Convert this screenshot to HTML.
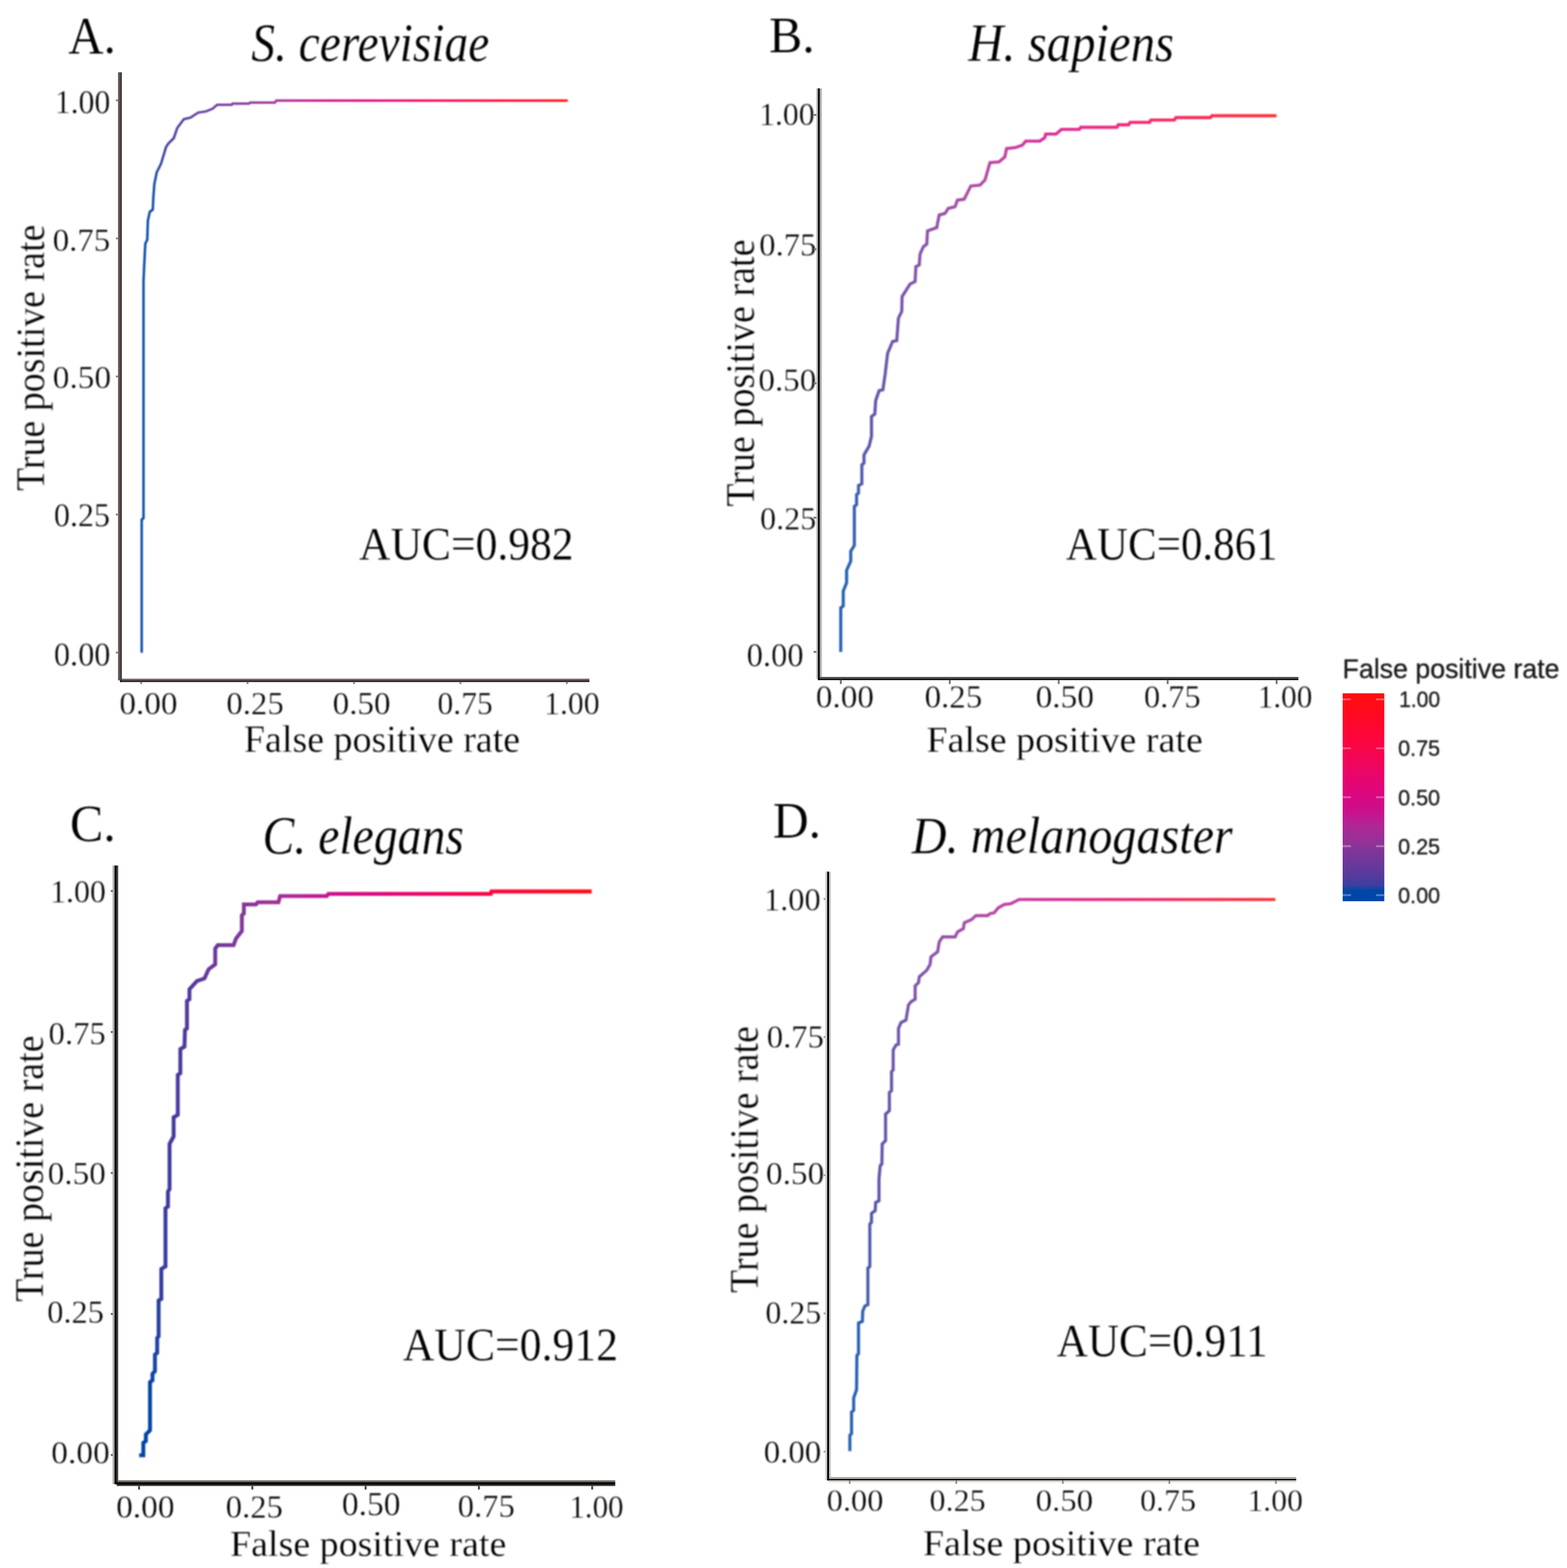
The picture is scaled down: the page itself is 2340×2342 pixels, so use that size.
<!DOCTYPE html>
<html><head><meta charset="utf-8"><title>ROC curves</title>
<style>html,body{margin:0;padding:0;background:#fff}svg{display:block}text{white-space:pre}</style></head>
<body><svg width="2340" height="2342" viewBox="0 0 2340 2342">
<rect width="2340" height="2342" fill="#fff"/>
<defs><linearGradient id="gA" gradientUnits="userSpaceOnUse" x1="210.8" y1="0" x2="846.4" y2="0"><stop offset="0" stop-color="#0046a8"/><stop offset="0.024" stop-color="#0046a6"/><stop offset="0.048" stop-color="#333c9f"/><stop offset="0.077" stop-color="#43399d"/><stop offset="0.105" stop-color="#52389c"/><stop offset="0.16" stop-color="#68379b"/><stop offset="0.218" stop-color="#7d3699"/><stop offset="0.248" stop-color="#8b3498"/><stop offset="0.297" stop-color="#9c2f97"/><stop offset="0.339" stop-color="#aa2a95"/><stop offset="0.396" stop-color="#c01a90"/><stop offset="0.453" stop-color="#d00b8a"/><stop offset="0.497" stop-color="#d80883"/><stop offset="0.538" stop-color="#df0679"/><stop offset="0.623" stop-color="#ea0568"/><stop offset="0.687" stop-color="#f20558"/><stop offset="0.75" stop-color="#f80548"/><stop offset="0.829" stop-color="#fd0636"/><stop offset="0.914" stop-color="#ff0822"/><stop offset="1" stop-color="#ff0d12"/></linearGradient><filter id="fcA" filterUnits="userSpaceOnUse" x="192" y="130" width="676" height="865" color-interpolation-filters="sRGB"><feGaussianBlur stdDeviation="0.8"/></filter><filter id="ftA" filterUnits="userSpaceOnUse" x="0" y="0" width="960" height="1150" color-interpolation-filters="sRGB"><feGaussianBlur stdDeviation="0.8"/></filter><linearGradient id="gB" gradientUnits="userSpaceOnUse" x1="1255.6" y1="0" x2="1906.4" y2="0"><stop offset="0" stop-color="#0046a8"/><stop offset="0.024" stop-color="#0046a6"/><stop offset="0.048" stop-color="#333c9f"/><stop offset="0.077" stop-color="#43399d"/><stop offset="0.105" stop-color="#52389c"/><stop offset="0.16" stop-color="#68379b"/><stop offset="0.218" stop-color="#7d3699"/><stop offset="0.248" stop-color="#8b3498"/><stop offset="0.297" stop-color="#9c2f97"/><stop offset="0.339" stop-color="#aa2a95"/><stop offset="0.396" stop-color="#c01a90"/><stop offset="0.453" stop-color="#d00b8a"/><stop offset="0.497" stop-color="#d80883"/><stop offset="0.538" stop-color="#df0679"/><stop offset="0.623" stop-color="#ea0568"/><stop offset="0.687" stop-color="#f20558"/><stop offset="0.75" stop-color="#f80548"/><stop offset="0.829" stop-color="#fd0636"/><stop offset="0.914" stop-color="#ff0822"/><stop offset="1" stop-color="#ff0d12"/></linearGradient><filter id="fcB" filterUnits="userSpaceOnUse" x="1236" y="153" width="691" height="841" color-interpolation-filters="sRGB"><feGaussianBlur stdDeviation="0.8"/></filter><filter id="ftB" filterUnits="userSpaceOnUse" x="1060" y="0" width="940" height="1150" color-interpolation-filters="sRGB"><feGaussianBlur stdDeviation="0.8"/></filter><linearGradient id="gC" gradientUnits="userSpaceOnUse" x1="207.7" y1="0" x2="884.3" y2="0"><stop offset="0" stop-color="#0046a8"/><stop offset="0.024" stop-color="#0046a6"/><stop offset="0.048" stop-color="#333c9f"/><stop offset="0.077" stop-color="#43399d"/><stop offset="0.105" stop-color="#52389c"/><stop offset="0.16" stop-color="#68379b"/><stop offset="0.218" stop-color="#7d3699"/><stop offset="0.248" stop-color="#8b3498"/><stop offset="0.297" stop-color="#9c2f97"/><stop offset="0.339" stop-color="#aa2a95"/><stop offset="0.396" stop-color="#c01a90"/><stop offset="0.453" stop-color="#d00b8a"/><stop offset="0.497" stop-color="#d80883"/><stop offset="0.538" stop-color="#df0679"/><stop offset="0.623" stop-color="#ea0568"/><stop offset="0.687" stop-color="#f20558"/><stop offset="0.75" stop-color="#f80548"/><stop offset="0.829" stop-color="#fd0636"/><stop offset="0.914" stop-color="#ff0822"/><stop offset="1" stop-color="#ff0d12"/></linearGradient><filter id="fcC" filterUnits="userSpaceOnUse" x="188" y="1312" width="716" height="882" color-interpolation-filters="sRGB"><feGaussianBlur stdDeviation="0.8"/></filter><filter id="ftC" filterUnits="userSpaceOnUse" x="0" y="1180" width="960" height="1162" color-interpolation-filters="sRGB"><feGaussianBlur stdDeviation="0.8"/></filter><linearGradient id="gD" gradientUnits="userSpaceOnUse" x1="1268.9" y1="0" x2="1905.3" y2="0"><stop offset="0" stop-color="#0046a8"/><stop offset="0.024" stop-color="#0046a6"/><stop offset="0.048" stop-color="#333c9f"/><stop offset="0.077" stop-color="#43399d"/><stop offset="0.105" stop-color="#52389c"/><stop offset="0.16" stop-color="#68379b"/><stop offset="0.218" stop-color="#7d3699"/><stop offset="0.248" stop-color="#8b3498"/><stop offset="0.297" stop-color="#9c2f97"/><stop offset="0.339" stop-color="#aa2a95"/><stop offset="0.396" stop-color="#c01a90"/><stop offset="0.453" stop-color="#d00b8a"/><stop offset="0.497" stop-color="#d80883"/><stop offset="0.538" stop-color="#df0679"/><stop offset="0.623" stop-color="#ea0568"/><stop offset="0.687" stop-color="#f20558"/><stop offset="0.75" stop-color="#f80548"/><stop offset="0.829" stop-color="#fd0636"/><stop offset="0.914" stop-color="#ff0822"/><stop offset="1" stop-color="#ff0d12"/></linearGradient><filter id="fcD" filterUnits="userSpaceOnUse" x="1249" y="1324" width="675" height="864" color-interpolation-filters="sRGB"><feGaussianBlur stdDeviation="0.8"/></filter><filter id="ftD" filterUnits="userSpaceOnUse" x="1060" y="1180" width="940" height="1162" color-interpolation-filters="sRGB"><feGaussianBlur stdDeviation="0.8"/></filter><filter id="ftL" filterUnits="userSpaceOnUse" x="1990" y="960" width="350" height="400" color-interpolation-filters="sRGB"><feGaussianBlur stdDeviation="0.8"/></filter><linearGradient id="gL" gradientUnits="userSpaceOnUse" x1="0" y1="1337.0" x2="0" y2="1044.6"><stop offset="0" stop-color="#0046a8"/><stop offset="0.024" stop-color="#0046a6"/><stop offset="0.048" stop-color="#3a40a0"/><stop offset="0.077" stop-color="#4a3c9e"/><stop offset="0.105" stop-color="#583a9d"/><stop offset="0.16" stop-color="#6c389b"/><stop offset="0.218" stop-color="#7d3699"/><stop offset="0.248" stop-color="#8b3498"/><stop offset="0.297" stop-color="#9c2f97"/><stop offset="0.339" stop-color="#aa2a95"/><stop offset="0.396" stop-color="#c01a90"/><stop offset="0.453" stop-color="#d00b8a"/><stop offset="0.497" stop-color="#d80883"/><stop offset="0.538" stop-color="#df0679"/><stop offset="0.623" stop-color="#ea0568"/><stop offset="0.687" stop-color="#f20558"/><stop offset="0.75" stop-color="#f80548"/><stop offset="0.829" stop-color="#fd0636"/><stop offset="0.914" stop-color="#ff0822"/><stop offset="1" stop-color="#ff0d12"/></linearGradient></defs>
<g filter="url(#fcA)">
<polyline points="211.6,975.0 211.6,776.0 214.3,774.0 214.3,420.0 215.2,399.0 217.0,364.0 219.9,358.0 220.8,330.0 223.6,316.5 228.2,313.0 229.0,295.0 230.5,275.0 234.0,257.6 240.5,244.4 248.0,219.5 251.3,214.5 259.6,206.2 264.6,191.3 274.5,178.0 284.5,175.6 296.0,168.1 307.7,166.4 317.6,162.3 324.3,156.5 346.0,156.5 347.4,154.8 372.0,154.8 373.4,153.2 410.5,153.2 412.5,150.2 847.8,150.2" fill="none" stroke="url(#gA)" stroke-width="3.5" stroke-opacity="1" stroke-linejoin="miter"/>
</g>
<g filter="url(#ftA)">
<text transform="matrix(0.9393 0 0 1 102.07 78.80)" font-family="'Liberation Serif', serif" font-size="77.56" fill="#000" stroke="#fff" stroke-width="0.2" stroke-linejoin="round">A.</text>
<text transform="matrix(0.8708 0 0 1 375.29 90.70)" font-family="'Liberation Serif', serif" font-size="81.36" font-style="italic" fill="#000" stroke="#fff" stroke-width="0.3" stroke-linejoin="round">S. cerevisiae</text>
<text transform="matrix(0.9520 0 0 1 81.72 169.00)" font-family="'Liberation Serif', serif" font-size="49.92" fill="#000" stroke="#fff" stroke-width="0.5" stroke-linejoin="round">1.00</text>
<text transform="matrix(1.0109 0 0 1 78.74 374.50)" font-family="'Liberation Serif', serif" font-size="48.57" fill="#000" stroke="#fff" stroke-width="0.5" stroke-linejoin="round">0.75</text>
<text transform="matrix(1.0269 0 0 1 78.70 579.50)" font-family="'Liberation Serif', serif" font-size="48.57" fill="#000" stroke="#fff" stroke-width="0.5" stroke-linejoin="round">0.50</text>
<text transform="matrix(0.9509 0 0 1 80.48 785.70)" font-family="'Liberation Serif', serif" font-size="50.38" fill="#000" stroke="#fff" stroke-width="0.5" stroke-linejoin="round">0.25</text>
<text transform="matrix(0.9726 0 0 1 80.47 994.40)" font-family="'Liberation Serif', serif" font-size="49.62" fill="#000" stroke="#fff" stroke-width="0.5" stroke-linejoin="round">0.00</text>
<text transform="matrix(1.0095 0 0 1 178.21 1067.00)" font-family="'Liberation Serif', serif" font-size="49.17" fill="#000" stroke="#fff" stroke-width="0.5" stroke-linejoin="round">0.00</text>
<text transform="matrix(0.9986 0 0 1 337.94 1067.00)" font-family="'Liberation Serif', serif" font-size="49.17" fill="#000" stroke="#fff" stroke-width="0.5" stroke-linejoin="round">0.25</text>
<text transform="matrix(1.0046 0 0 1 496.72 1067.00)" font-family="'Liberation Serif', serif" font-size="49.17" fill="#000" stroke="#fff" stroke-width="0.5" stroke-linejoin="round">0.50</text>
<text transform="matrix(0.9608 0 0 1 653.21 1067.00)" font-family="'Liberation Serif', serif" font-size="49.17" fill="#000" stroke="#fff" stroke-width="0.5" stroke-linejoin="round">0.75</text>
<text transform="matrix(0.9641 0 0 1 812.53 1067.00)" font-family="'Liberation Serif', serif" font-size="49.17" fill="#000" stroke="#fff" stroke-width="0.5" stroke-linejoin="round">1.00</text>
<text transform="matrix(1.0035 0 0 1 364.30 1122.50)" font-family="'Liberation Serif', serif" font-size="56.49" fill="#000" stroke="#fff" stroke-width="0.4" stroke-linejoin="round">False positive rate</text>
<text transform="matrix(0 -0.9285 1 0 65.80 733.43)" font-family="'Liberation Serif', serif" font-size="61.08" fill="#000" stroke="#fff" stroke-width="0.4" stroke-linejoin="round">True positive rate</text>
<text transform="matrix(0.9265 0 0 1 536.15 835.60)" font-family="'Liberation Serif', serif" font-size="70.23" fill="#000" stroke="#fff" stroke-width="0.3" stroke-linejoin="round">AUC=0.982</text>
</g>
<g filter="url(#fcB)">
<polyline points="1255.5,973.7 1255.5,907.8 1259.2,905.3 1259.2,883.0 1264.2,870.6 1264.2,851.9 1270.4,838.3 1270.4,823.4 1275.8,814.7 1275.8,756.3 1279.1,753.8 1279.1,738.9 1282.0,736.4 1282.0,725.2 1287.0,722.7 1287.0,694.2 1290.2,691.7 1290.2,679.3 1297.7,666.8 1301.4,651.9 1301.4,622.1 1306.4,618.4 1307.6,598.5 1312.8,583.5 1318.4,582.2 1321.7,559.8 1325.5,527.5 1332.9,510.1 1339.1,508.8 1341.6,475.3 1346.6,465.3 1347.1,443.0 1359.0,424.3 1366.5,420.6 1367.7,398.3 1372.7,395.8 1373.9,379.6 1378.9,368.4 1383.9,364.7 1385.1,344.8 1398.8,339.9 1402.5,321.2 1411.2,318.8 1416.1,311.3 1426.1,308.8 1429.8,298.9 1439.8,297.6 1449.7,277.8 1463.4,276.5 1470.8,269.1 1478.3,243.0 1491.9,241.7 1500.6,234.3 1503.1,221.9 1515.5,220.6 1526.7,216.9 1531.7,210.7 1552.8,210.7 1560.2,205.7 1561.5,200.3 1577.0,200.3 1585.0,193.2 1611.8,193.2 1613.9,190.1 1667.8,190.1 1669.8,186.4 1685.4,186.4 1687.5,182.8 1716.5,182.8 1718.5,179.3 1753.8,179.3 1755.9,175.6 1807.7,175.6 1809.7,172.9 1906.3,172.9" fill="none" stroke="url(#gB)" stroke-width="4.6" stroke-opacity="0.86" stroke-linejoin="miter"/>
</g>
<g filter="url(#ftB)">
<text transform="matrix(0.9788 0 0 1 1148.47 78.20)" font-family="'Liberation Serif', serif" font-size="75.88" fill="#000" stroke="#fff" stroke-width="0.2" stroke-linejoin="round">B.</text>
<text transform="matrix(0.9073 0 0 1 1445.63 90.60)" font-family="'Liberation Serif', serif" font-size="80.31" font-style="italic" fill="#000" stroke="#fff" stroke-width="0.3" stroke-linejoin="round">H. sapiens</text>
<text transform="matrix(0.9607 0 0 1 1133.42 187.00)" font-family="'Liberation Serif', serif" font-size="49.47" fill="#000" stroke="#fff" stroke-width="0.5" stroke-linejoin="round">1.00</text>
<text transform="matrix(0.9858 0 0 1 1133.86 382.40)" font-family="'Liberation Serif', serif" font-size="49.32" fill="#000" stroke="#fff" stroke-width="0.5" stroke-linejoin="round">0.75</text>
<text transform="matrix(1.0171 0 0 1 1132.52 584.30)" font-family="'Liberation Serif', serif" font-size="48.57" fill="#000" stroke="#fff" stroke-width="0.5" stroke-linejoin="round">0.50</text>
<text transform="matrix(0.9893 0 0 1 1135.08 791.00)" font-family="'Liberation Serif', serif" font-size="48.42" fill="#000" stroke="#fff" stroke-width="0.5" stroke-linejoin="round">0.25</text>
<text transform="matrix(0.9774 0 0 1 1115.06 994.50)" font-family="'Liberation Serif', serif" font-size="49.62" fill="#000" stroke="#fff" stroke-width="0.5" stroke-linejoin="round">0.00</text>
<text transform="matrix(1.0220 0 0 1 1218.21 1056.70)" font-family="'Liberation Serif', serif" font-size="48.57" fill="#000" stroke="#fff" stroke-width="0.5" stroke-linejoin="round">0.00</text>
<text transform="matrix(1.0122 0 0 1 1380.73 1056.70)" font-family="'Liberation Serif', serif" font-size="48.57" fill="#000" stroke="#fff" stroke-width="0.5" stroke-linejoin="round">0.25</text>
<text transform="matrix(1.0269 0 0 1 1546.40 1056.70)" font-family="'Liberation Serif', serif" font-size="48.57" fill="#000" stroke="#fff" stroke-width="0.5" stroke-linejoin="round">0.50</text>
<text transform="matrix(0.9974 0 0 1 1708.16 1056.70)" font-family="'Liberation Serif', serif" font-size="48.57" fill="#000" stroke="#fff" stroke-width="0.5" stroke-linejoin="round">0.75</text>
<text transform="matrix(0.9608 0 0 1 1878.10 1056.70)" font-family="'Liberation Serif', serif" font-size="48.57" fill="#000" stroke="#fff" stroke-width="0.5" stroke-linejoin="round">1.00</text>
<text transform="matrix(1.0154 0 0 1 1383.40 1122.60)" font-family="'Liberation Serif', serif" font-size="55.88" fill="#000" stroke="#fff" stroke-width="0.4" stroke-linejoin="round">False positive rate</text>
<text transform="matrix(0 -0.9316 1 0 1125.80 756.94)" font-family="'Liberation Serif', serif" font-size="61.08" fill="#000" stroke="#fff" stroke-width="0.4" stroke-linejoin="round">True positive rate</text>
<text transform="matrix(0.9139 0 0 1 1591.76 835.60)" font-family="'Liberation Serif', serif" font-size="70.23" fill="#000" stroke="#fff" stroke-width="0.3" stroke-linejoin="round">AUC=0.861</text>
</g>
<g filter="url(#fcC)">
<polyline points="207.8,2173.6 214.0,2173.6 214.0,2155.0 217.8,2152.5 217.8,2142.5 224.0,2136.3 224.0,2064.3 227.7,2061.8 227.7,2051.9 231.4,2048.1 231.4,2023.3 234.7,2020.8 234.7,1998.4 236.9,1996.0 236.9,1942.5 240.9,1940.1 240.9,1895.3 247.1,1891.6 247.1,1804.7 250.8,1802.2 250.8,1779.8 253.2,1776.1 253.2,1708.6 259.3,1697.5 259.3,1668.9 265.5,1665.2 265.5,1605.5 269.3,1603.0 269.3,1567.0 275.5,1563.3 276.2,1538.4 279.2,1536.0 279.2,1495.0 282.9,1492.5 282.9,1477.6 294.1,1465.2 305.3,1461.4 311.5,1447.8 321.4,1440.3 321.4,1416.7 325.2,1411.7 348.8,1411.7 352.5,1401.8 361.2,1390.6 361.2,1367.0 364.2,1364.5 364.2,1350.9 382.3,1350.9 384.8,1347.6 415.8,1347.6 418.3,1338.4 487.9,1338.4 490.4,1335.2 733.0,1335.2 734.0,1331.5 883.6,1331.5" fill="none" stroke="url(#gC)" stroke-width="5.8" stroke-opacity="1" stroke-linejoin="miter"/>
</g>
<g filter="url(#ftC)">
<text transform="matrix(0.9650 0 0 1 104.52 1256.40)" font-family="'Liberation Serif', serif" font-size="77.27" fill="#000" stroke="#fff" stroke-width="0.2" stroke-linejoin="round">C.</text>
<text transform="matrix(0.8792 0 0 1 391.98 1275.20)" font-family="'Liberation Serif', serif" font-size="81.06" font-style="italic" fill="#000" stroke="#fff" stroke-width="0.3" stroke-linejoin="round">C. elegans</text>
<text transform="matrix(0.9781 0 0 1 74.71 1348.40)" font-family="'Liberation Serif', serif" font-size="48.72" fill="#000" stroke="#fff" stroke-width="0.5" stroke-linejoin="round">1.00</text>
<text transform="matrix(0.9894 0 0 1 72.55 1560.00)" font-family="'Liberation Serif', serif" font-size="49.32" fill="#000" stroke="#fff" stroke-width="0.5" stroke-linejoin="round">0.75</text>
<text transform="matrix(1.0195 0 0 1 71.32 1769.40)" font-family="'Liberation Serif', serif" font-size="48.57" fill="#000" stroke="#fff" stroke-width="0.5" stroke-linejoin="round">0.50</text>
<text transform="matrix(0.9961 0 0 1 70.46 1976.10)" font-family="'Liberation Serif', serif" font-size="48.57" fill="#000" stroke="#fff" stroke-width="0.5" stroke-linejoin="round">0.25</text>
<text transform="matrix(1.0269 0 0 1 76.60 2186.00)" font-family="'Liberation Serif', serif" font-size="48.57" fill="#000" stroke="#fff" stroke-width="0.5" stroke-linejoin="round">0.00</text>
<text transform="matrix(1.0101 0 0 1 173.41 2267.00)" font-family="'Liberation Serif', serif" font-size="49.32" fill="#000" stroke="#fff" stroke-width="0.5" stroke-linejoin="round">0.00</text>
<text transform="matrix(0.9894 0 0 1 337.05 2267.00)" font-family="'Liberation Serif', serif" font-size="49.32" fill="#000" stroke="#fff" stroke-width="0.5" stroke-linejoin="round">0.25</text>
<text transform="matrix(1.0039 0 0 1 510.50 2263.40)" font-family="'Liberation Serif', serif" font-size="49.92" fill="#000" stroke="#fff" stroke-width="0.5" stroke-linejoin="round">0.50</text>
<text transform="matrix(0.9882 0 0 1 683.55 2266.30)" font-family="'Liberation Serif', serif" font-size="49.32" fill="#000" stroke="#fff" stroke-width="0.5" stroke-linejoin="round">0.75</text>
<text transform="matrix(0.9374 0 0 1 850.24 2267.00)" font-family="'Liberation Serif', serif" font-size="49.32" fill="#000" stroke="#fff" stroke-width="0.5" stroke-linejoin="round">1.00</text>
<text transform="matrix(1.0182 0 0 1 343.40 2323.50)" font-family="'Liberation Serif', serif" font-size="55.73" fill="#000" stroke="#fff" stroke-width="0.4" stroke-linejoin="round">False positive rate</text>
<text transform="matrix(0 -0.9382 1 0 64.10 1944.53)" font-family="'Liberation Serif', serif" font-size="60.46" fill="#000" stroke="#fff" stroke-width="0.4" stroke-linejoin="round">True positive rate</text>
<text transform="matrix(0.9314 0 0 1 601.45 2031.80)" font-family="'Liberation Serif', serif" font-size="70.08" fill="#000" stroke="#fff" stroke-width="0.3" stroke-linejoin="round">AUC=0.912</text>
</g>
<g filter="url(#fcD)">
<polyline points="1269.1,2167.4 1269.1,2143.8 1271.6,2141.3 1271.6,2109.0 1274.8,2106.5 1274.8,2087.9 1279.1,2075.5 1279.6,2024.5 1282.0,2022.0 1282.0,1976.1 1287.8,1973.6 1288.3,1958.7 1291.5,1950.7 1296.0,1948.8 1296.0,1894.1 1298.9,1891.6 1298.9,1828.3 1301.4,1825.8 1301.4,1812.1 1306.9,1808.4 1307.6,1796.0 1312.6,1793.5 1312.6,1760.9 1314.4,1741.0 1316.9,1738.5 1317.4,1708.7 1322.4,1703.7 1322.4,1664.0 1328.1,1659.0 1328.1,1631.7 1331.3,1629.2 1331.3,1600.6 1333.8,1598.1 1333.8,1568.3 1338.0,1560.9 1341.7,1559.6 1341.7,1536.0 1345.5,1527.3 1352.9,1523.6 1356.6,1501.2 1360.4,1496.3 1366.6,1492.5 1366.6,1472.7 1371.6,1467.7 1372.8,1459.0 1384.0,1449.1 1388.9,1440.4 1390.2,1429.2 1400.1,1421.7 1402.6,1406.8 1407.6,1399.4 1426.2,1399.4 1429.9,1391.9 1438.6,1387.0 1439.9,1378.3 1451.1,1373.3 1457.3,1367.6 1474.7,1367.6 1478.4,1364.6 1484.6,1363.4 1490.8,1355.9 1499.5,1350.9 1509.4,1349.7 1521.9,1343.5 1904.5,1343.5" fill="none" stroke="url(#gD)" stroke-width="4.6" stroke-opacity="0.86" stroke-linejoin="miter"/>
</g>
<g filter="url(#ftD)">
<text transform="matrix(0.9629 0 0 1 1154.18 1250.50)" font-family="'Liberation Serif', serif" font-size="76.79" fill="#000" stroke="#fff" stroke-width="0.2" stroke-linejoin="round">D.</text>
<text transform="matrix(0.9093 0 0 1 1361.62 1274.00)" font-family="'Liberation Serif', serif" font-size="79.08" font-style="italic" fill="#000" stroke="#fff" stroke-width="0.3" stroke-linejoin="round">D. melanogaster</text>
<text transform="matrix(1.0002 0 0 1 1140.63 1360.00)" font-family="'Liberation Serif', serif" font-size="48.57" fill="#000" stroke="#fff" stroke-width="0.5" stroke-linejoin="round">1.00</text>
<text transform="matrix(0.9882 0 0 1 1145.05 1564.50)" font-family="'Liberation Serif', serif" font-size="49.32" fill="#000" stroke="#fff" stroke-width="0.5" stroke-linejoin="round">0.75</text>
<text transform="matrix(1.0269 0 0 1 1143.70 1769.40)" font-family="'Liberation Serif', serif" font-size="48.57" fill="#000" stroke="#fff" stroke-width="0.5" stroke-linejoin="round">0.50</text>
<text transform="matrix(0.9801 0 0 1 1143.00 1977.30)" font-family="'Liberation Serif', serif" font-size="48.57" fill="#000" stroke="#fff" stroke-width="0.5" stroke-linejoin="round">0.25</text>
<text transform="matrix(1.0109 0 0 1 1140.44 2184.80)" font-family="'Liberation Serif', serif" font-size="48.57" fill="#000" stroke="#fff" stroke-width="0.5" stroke-linejoin="round">0.00</text>
<text transform="matrix(1.0346 0 0 1 1234.46 2256.80)" font-family="'Liberation Serif', serif" font-size="46.77" fill="#000" stroke="#fff" stroke-width="0.5" stroke-linejoin="round">0.00</text>
<text transform="matrix(1.0243 0 0 1 1388.08 2256.80)" font-family="'Liberation Serif', serif" font-size="46.77" fill="#000" stroke="#fff" stroke-width="0.5" stroke-linejoin="round">0.25</text>
<text transform="matrix(1.0512 0 0 1 1546.43 2256.80)" font-family="'Liberation Serif', serif" font-size="46.77" fill="#000" stroke="#fff" stroke-width="0.5" stroke-linejoin="round">0.50</text>
<text transform="matrix(1.0205 0 0 1 1702.49 2256.80)" font-family="'Liberation Serif', serif" font-size="46.77" fill="#000" stroke="#fff" stroke-width="0.5" stroke-linejoin="round">0.75</text>
<text transform="matrix(1.0137 0 0 1 1862.63 2256.80)" font-family="'Liberation Serif', serif" font-size="46.77" fill="#000" stroke="#fff" stroke-width="0.5" stroke-linejoin="round">1.00</text>
<text transform="matrix(1.0294 0 0 1 1378.19 2322.70)" font-family="'Liberation Serif', serif" font-size="55.27" fill="#000" stroke="#fff" stroke-width="0.4" stroke-linejoin="round">False positive rate</text>
<text transform="matrix(0 -0.9404 1 0 1131.60 1931.34)" font-family="'Liberation Serif', serif" font-size="60.46" fill="#000" stroke="#fff" stroke-width="0.4" stroke-linejoin="round">True positive rate</text>
<text transform="matrix(0.9176 0 0 1 1578.06 2025.60)" font-family="'Liberation Serif', serif" font-size="70.23" fill="#000" stroke="#fff" stroke-width="0.3" stroke-linejoin="round">AUC=0.911</text>
</g>
<g filter="url(#ftL)">
<text transform="matrix(0.9640 0 0 1 2087.81 1348.70)" font-family="'Liberation Sans', sans-serif" font-size="33.43" fill="#1a1a1a" stroke="#1a1a1a" stroke-width="0.5" stroke-linejoin="round">0.00</text>
<text transform="matrix(0.9640 0 0 1 2087.81 1275.60)" font-family="'Liberation Sans', sans-serif" font-size="33.43" fill="#1a1a1a" stroke="#1a1a1a" stroke-width="0.5" stroke-linejoin="round">0.25</text>
<text transform="matrix(0.9640 0 0 1 2087.81 1202.50)" font-family="'Liberation Sans', sans-serif" font-size="33.43" fill="#1a1a1a" stroke="#1a1a1a" stroke-width="0.5" stroke-linejoin="round">0.50</text>
<text transform="matrix(0.9640 0 0 1 2087.81 1129.40)" font-family="'Liberation Sans', sans-serif" font-size="33.43" fill="#1a1a1a" stroke="#1a1a1a" stroke-width="0.5" stroke-linejoin="round">0.75</text>
<text transform="matrix(0.9416 0 0 1 2089.24 1056.30)" font-family="'Liberation Sans', sans-serif" font-size="33.43" fill="#1a1a1a" stroke="#1a1a1a" stroke-width="0.5" stroke-linejoin="round">1.00</text>
<text transform="matrix(0.9632 0 0 1 2004.81 1012.60)" font-family="'Liberation Sans', sans-serif" font-size="41.45" fill="#1a1a1a" stroke="#1a1a1a" stroke-width="0.5" stroke-linejoin="round">False positive rate</text>
</g>
<rect x="176.30" y="108.00" width="2.90" height="908.20" fill="#5a5250"/>
<rect x="179.20" y="108.00" width="2.70" height="910.70" fill="#3a2f2d"/>
<rect x="181.90" y="1013.70" width="698.30" height="2.50" fill="#6b6360"/>
<rect x="179.20" y="1016.20" width="701.00" height="2.50" fill="#231816"/>
<rect x="173.00" y="973.30" width="3.3" height="2.8" fill="#8a8684"/>
<rect x="209.40" y="1018.70" width="2.8" height="3" fill="#8a8684"/>
<rect x="173.00" y="767.10" width="3.3" height="2.8" fill="#8a8684"/>
<rect x="368.30" y="1018.70" width="2.8" height="3" fill="#8a8684"/>
<rect x="173.00" y="560.90" width="3.3" height="2.8" fill="#8a8684"/>
<rect x="527.20" y="1018.70" width="2.8" height="3" fill="#8a8684"/>
<rect x="173.00" y="354.70" width="3.3" height="2.8" fill="#8a8684"/>
<rect x="686.10" y="1018.70" width="2.8" height="3" fill="#8a8684"/>
<rect x="173.00" y="148.50" width="3.3" height="2.8" fill="#8a8684"/>
<rect x="845.00" y="1018.70" width="2.8" height="3" fill="#8a8684"/>
<rect x="1219.10" y="132.00" width="2.30" height="882.20" fill="#bcb8b6"/>
<rect x="1221.40" y="132.00" width="2.80" height="883.80" fill="#000"/>
<rect x="1224.20" y="132.00" width="2.70" height="879.10" fill="#a8a3a1"/>
<rect x="1224.20" y="1011.10" width="714.70" height="2.80" fill="#4e4845"/>
<rect x="1221.80" y="1013.90" width="717.10" height="1.90" fill="#000"/>
<rect x="1215.00" y="972.30" width="4.1" height="2.8" fill="#777"/>
<rect x="1254.20" y="1015.80" width="2.8" height="5.9" fill="#777"/>
<rect x="1215.00" y="771.80" width="4.1" height="2.8" fill="#777"/>
<rect x="1416.90" y="1015.80" width="2.8" height="5.9" fill="#777"/>
<rect x="1215.00" y="571.30" width="4.1" height="2.8" fill="#777"/>
<rect x="1579.60" y="1015.80" width="2.8" height="5.9" fill="#777"/>
<rect x="1215.00" y="370.80" width="4.1" height="2.8" fill="#777"/>
<rect x="1742.30" y="1015.80" width="2.8" height="5.9" fill="#777"/>
<rect x="1215.00" y="170.30" width="4.1" height="2.8" fill="#777"/>
<rect x="1905.00" y="1015.80" width="2.8" height="5.9" fill="#777"/>
<rect x="168.20" y="1292.70" width="2.90" height="924.00" fill="#aaa8a8"/>
<rect x="171.10" y="1292.70" width="3.10" height="924.30" fill="#000"/>
<rect x="174.20" y="1292.70" width="2.20" height="924.30" fill="#332e2c"/>
<rect x="176.40" y="2211.10" width="742.30" height="2.80" fill="#6a6562"/>
<rect x="171.10" y="2213.90" width="747.60" height="3.10" fill="#000"/>
<rect x="174.20" y="2217.00" width="744.50" height="2.50" fill="#332e2c"/>
<rect x="165.60" y="2171.80" width="2.6" height="2.8" fill="#555"/>
<rect x="206.30" y="2219.50" width="2.8" height="5.3" fill="#3a4040"/>
<rect x="165.60" y="1961.20" width="2.6" height="2.8" fill="#555"/>
<rect x="375.45" y="2219.50" width="2.8" height="5.3" fill="#3a4040"/>
<rect x="165.60" y="1750.60" width="2.6" height="2.8" fill="#555"/>
<rect x="544.60" y="2219.50" width="2.8" height="5.3" fill="#3a4040"/>
<rect x="165.60" y="1540.00" width="2.6" height="2.8" fill="#555"/>
<rect x="713.75" y="2219.50" width="2.8" height="5.3" fill="#3a4040"/>
<rect x="165.60" y="1329.40" width="2.6" height="2.8" fill="#555"/>
<rect x="882.90" y="2219.50" width="2.8" height="5.3" fill="#3a4040"/>
<rect x="1232.40" y="1301.80" width="2.80" height="908.60" fill="#d5d0cd"/>
<rect x="1235.20" y="1301.80" width="2.80" height="909.40" fill="#000"/>
<rect x="1238.00" y="1301.80" width="2.60" height="904.30" fill="#c5c0bc"/>
<rect x="1238.00" y="2206.10" width="697.60" height="2.90" fill="#aaa6a2"/>
<rect x="1235.20" y="2209.00" width="700.40" height="2.20" fill="#000"/>
<rect x="1238.00" y="2211.20" width="697.60" height="2.50" fill="#d0cbc8"/>
<rect x="1229.90" y="2166.90" width="2.5" height="2.6" fill="#999"/>
<rect x="1267.70" y="2211.20" width="2.4" height="5.1" fill="#8a8684"/>
<rect x="1229.90" y="1960.50" width="2.5" height="2.6" fill="#999"/>
<rect x="1426.80" y="2211.20" width="2.4" height="5.1" fill="#8a8684"/>
<rect x="1229.90" y="1754.10" width="2.5" height="2.6" fill="#999"/>
<rect x="1585.90" y="2211.20" width="2.4" height="5.1" fill="#8a8684"/>
<rect x="1229.90" y="1547.70" width="2.5" height="2.6" fill="#999"/>
<rect x="1745.00" y="2211.20" width="2.4" height="5.1" fill="#8a8684"/>
<rect x="1229.90" y="1341.30" width="2.5" height="2.6" fill="#999"/>
<rect x="1904.10" y="2211.20" width="2.4" height="5.1" fill="#8a8684"/>
<rect x="2005" y="1035.5" width="62.20" height="310.60" fill="url(#gL)"/>
<rect x="2005" y="1335.60" width="12.44" height="2.8" fill="#fff" opacity="0.33"/>
<rect x="2054.76" y="1335.60" width="12.44" height="2.8" fill="#fff" opacity="0.33"/>
<rect x="2005" y="1262.50" width="12.44" height="2.8" fill="#fff" opacity="0.33"/>
<rect x="2054.76" y="1262.50" width="12.44" height="2.8" fill="#fff" opacity="0.33"/>
<rect x="2005" y="1189.40" width="12.44" height="2.8" fill="#fff" opacity="0.33"/>
<rect x="2054.76" y="1189.40" width="12.44" height="2.8" fill="#fff" opacity="0.33"/>
<rect x="2005" y="1116.30" width="12.44" height="2.8" fill="#fff" opacity="0.33"/>
<rect x="2054.76" y="1116.30" width="12.44" height="2.8" fill="#fff" opacity="0.33"/>
<rect x="2005" y="1043.20" width="12.44" height="2.8" fill="#fff" opacity="0.33"/>
<rect x="2054.76" y="1043.20" width="12.44" height="2.8" fill="#fff" opacity="0.33"/>
</svg></body></html>
